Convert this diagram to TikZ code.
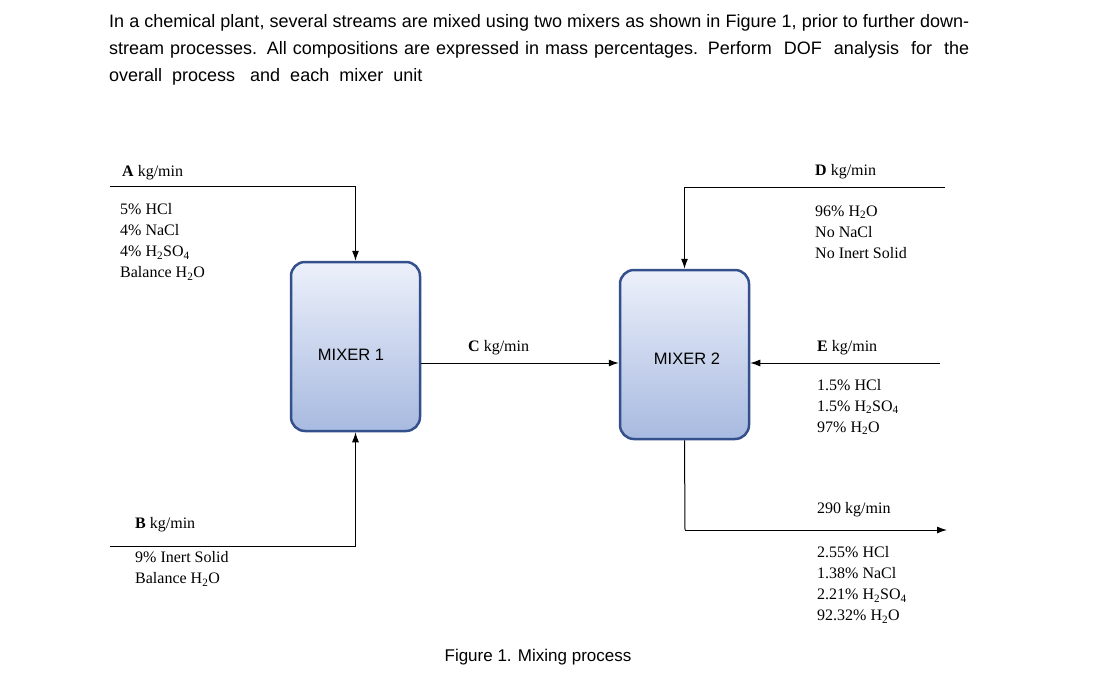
\documentclass[tikz,border=0pt]{standalone}
\usepackage{fontspec}
\usetikzlibrary{arrows.meta}
\setmainfont{Liberation Serif}
\newfontfamily\sans{Liberation Sans}
\definecolor{mborder}{RGB}{52,80,140}
\definecolor{mtop}{RGB}{236,240,250}
\definecolor{mbot}{RGB}{168,186,224}
\begin{document}
\begin{tikzpicture}[x=1pt,y=-1pt,
  mixer/.style={draw=mborder,line width=2.5pt,rounded corners=14pt,top color=mtop,bottom color=mbot,minimum width=129pt,minimum height=169pt},
  mt/.style={font=\sans\fontsize{16.5}{18}\selectfont},
  ln/.style={line width=1pt},
  arr/.style={ln,-{Latex[length=10pt,width=7pt]}},
  lab/.style={anchor=west,font=\fontsize{16}{21}\selectfont,align=left,inner sep=0pt}]
\useasboundingbox (0,0) rectangle (1095,698);
\node[anchor=north west,align=justify,text width=860pt,inner sep=0pt,font=\sans\fontsize{18}{27}\selectfont] (para) at (109,14)
 {In a chemical plant, several streams are mixed using two mixers as shown in Figure 1, prior to further downstream processes. All compositions are expressed in mass percentages. Perform\ \ DOF\ \ analysis\ \ for\ \ the\ \ overall\ \ process\ \ \ and\ \ each\ \ mixer\ \ unit\hfill\null};
\node[mixer] (m1) at (355.5,346.5) {};
\node[mt] (m1t) at (351,355) {MIXER 1};
\node[mixer] (m2) at (684.5,354.5) {};
\node[mt] (m2t) at (687,359) {MIXER 2};
\coordinate (a0) at (110,186);
\coordinate (b0) at (110,546);
\coordinate (d0) at (945,187);
\coordinate (e0) at (940,363);
\coordinate (o1) at (685,530);
\coordinate (o2) at (947,530);
\draw[arr] (a0) -| (m1.north);
\draw[arr] (b0) -| (m1.south);
\draw[arr] (m1.east|-0,363) -- (m2.west|-0,363);
\draw[arr] (d0) -| (m2.north);
\draw[arr] (e0) -- (m2.east|-0,363);
\draw[ln] (m2.south) -- (o1);
\draw[arr] (o1) -- (o2);
\node[lab] (la) at (122,173) {\textbf{A} kg/min};
\node[lab] (lac) at (120,242) {5\% HCl\\4\% NaCl\\4\% H\textsubscript{2}SO\textsubscript{4}\\Balance H\textsubscript{2}O};
\node[lab] (lb) at (135,525) {\textbf{B} kg/min};
\node[lab] (lbc) at (135,569) {9\% Inert Solid\\Balance H\textsubscript{2}O};
\node[lab] (lc) at (468,348) {\textbf{C} kg/min};
\node[lab] (ld) at (815,172) {\textbf{D} kg/min};
\node[lab] (ldc) at (815,232) {96\% H\textsubscript{2}O\\No NaCl\\No Inert Solid};
\node[lab] (le) at (817,348) {\textbf{E} kg/min};
\node[lab] (lec) at (817,407) {1.5\% HCl\\1.5\% H\textsubscript{2}SO\textsubscript{4}\\97\% H\textsubscript{2}O};
\node[lab] (lo) at (817,510) {290 kg/min};
\node[lab] (loc) at (817,585) {2.55\% HCl\\1.38\% NaCl\\2.21\% H\textsubscript{2}SO\textsubscript{4}\\92.32\% H\textsubscript{2}O};
\node[font=\sans\fontsize{17}{18}\selectfont] (cap) at (538,657) {Figure 1. Mixing process};
\end{tikzpicture}
\end{document}
